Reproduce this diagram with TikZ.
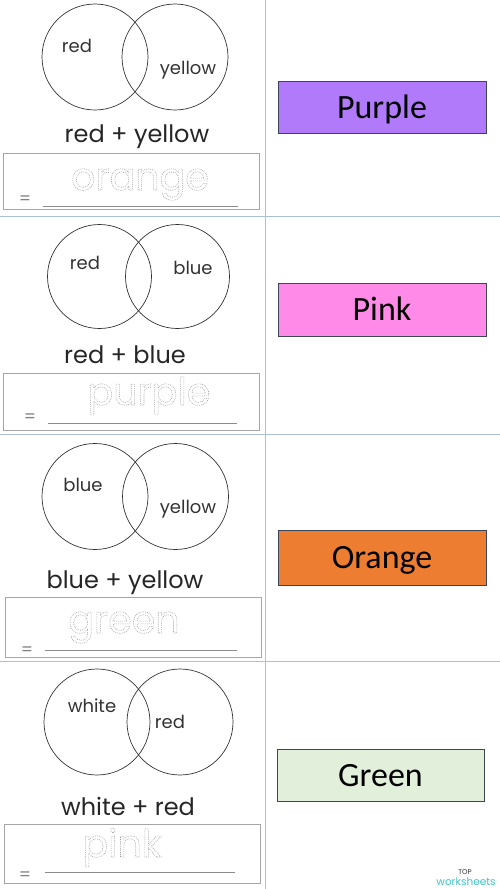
\documentclass[tikz,border=0pt]{standalone}
\usepackage{fontspec}
\setmainfont{Poppins}
\newfontfamily\boxfont{Carlito}
\definecolor{sepc}{RGB}{172,192,212}
\definecolor{bxborder}{RGB}{60,70,90}
\definecolor{cpurple}{RGB}{176,122,250}
\definecolor{cpink}{RGB}{255,138,232}
\definecolor{corange}{RGB}{237,125,49}
\definecolor{cgreen}{RGB}{226,239,218}
\definecolor{logoteal}{RGB}{60,196,200}
\newcommand\tracedword[1]{\special{pdf:literal direct 1 Tr 0.55 w [0.9 1.0] 0 d 0.62 G}#1\special{pdf:literal direct 0 Tr [] 0 d}}
\tikzset{
  venn/.style={draw=black!80, line width=0.7pt, circle, minimum size=106pt, inner sep=0pt},
  vlabel/.style={inner sep=0pt, text=black!80, font=\fontsize{18}{18}\selectfont},
  sumlabel/.style={inner sep=0pt, text=black!85, font=\fontsize{24}{24}\selectfont},
  ansbox/.style={draw=black!35, line width=1.3pt, inner sep=0pt},
  eqsign/.style={inner sep=0pt, text=black!50, font=\fontsize{17}{17}\selectfont},
  uline/.style={draw=black!45, line width=0.6pt},
  traced/.style={inner sep=0pt, anchor=base, text=black!40, font=\fontsize{38}{38}\selectfont},
  colbox/.style={draw=bxborder, line width=0.8pt, inner sep=0pt, text height=25pt, text depth=3pt, font=\boxfont\fontsize{34}{34}\selectfont},
  sepline/.style={draw=sepc, line width=0.8pt}
}
\begin{document}
\begin{tikzpicture}[x=1pt,y=-1pt]
\useasboundingbox (0,0) rectangle (500,889);
% grid
\coordinate (vt) at (265,0); \coordinate (vb) at (265,889);
\draw[sepline] (vt) -- (vb);
\foreach \yy/\nm in {216/s1,434/s2,661/s3}{
  \coordinate (\nm l) at (0,\yy); \coordinate (\nm r) at (500,\yy);
  \draw[sepline] (\nm l) -- (\nm r);
}
% ---------- section 1 ----------
\node[venn] (c1a) at (95,57) {};
\node[venn] (c1b) at (175,57) {};
\node[vlabel] (l1a) at (77,46) {red};
\node[vlabel] (l1b) at (188,70) {yellow};
\node[sumlabel] (s1) at (137,137) {red + yellow};
\node[ansbox, anchor=north west, minimum width=256pt, minimum height=56pt] (b1) at (3,153) {};
\node[traced] (t1) at (140,190) {\tracedword{orange}};
\node[eqsign] (e1) at (25,200) {=};
\coordinate (u1a) at (43,206); \coordinate (u1b) at (238,206);
\draw[uline] (u1a) -- (u1b);
% ---------- section 2 ----------
\node[venn, minimum size=104pt] (c2a) at (99.5,276.5) {};
\node[venn, minimum size=104pt] (c2b) at (177.5,276.5) {};
\node[vlabel] (l2a) at (85,263) {red};
\node[vlabel] (l2b) at (193,268) {blue};
\node[sumlabel] (s2) at (125,355) {red + blue};
\node[ansbox, anchor=north west, minimum width=256pt, minimum height=57pt] (b2) at (3,373) {};
\node[traced] (t2) at (149,405) {\tracedword{purple}};
\node[eqsign] (e2) at (30,418) {=};
\coordinate (u2a) at (48,423); \coordinate (u2b) at (237,423);
\draw[uline] (u2a) -- (u2b);
% ---------- section 3 ----------
\node[venn] (c3a) at (95,496.5) {};
\node[venn] (c3b) at (175.5,496.5) {};
\node[vlabel] (l3a) at (83,485) {blue};
\node[vlabel] (l3b) at (188,509) {yellow};
\node[sumlabel] (s3) at (125,583) {blue + yellow};
\node[ansbox, anchor=north west, minimum width=256pt, minimum height=60pt] (b3) at (5,597) {};
\node[traced] (t3) at (124,633) {\tracedword{green}};
\node[eqsign] (e3) at (27,651) {=};
\coordinate (u3a) at (45,650); \coordinate (u3b) at (237,650);
\draw[uline] (u3a) -- (u3b);
% ---------- section 4 ----------
\node[venn] (c4a) at (97,722) {};
\node[venn] (c4b) at (180,722) {};
\node[vlabel] (l4a) at (92,706) {white};
\node[vlabel] (l4b) at (170,722) {red};
\node[sumlabel] (s4) at (128,806) {white + red};
\node[ansbox, anchor=north west, minimum width=256pt, minimum height=59pt] (b4) at (4,824) {};
\node[traced] (t4) at (122,857) {\tracedword{pink}};
\node[eqsign] (e4) at (25,876) {=};
\coordinate (u4a) at (45,872); \coordinate (u4b) at (235,872);
\draw[uline] (u4a) -- (u4b);
% ---------- colour boxes ----------
\node[colbox, fill=cpurple, minimum width=208pt, minimum height=52pt] (pb) at (382,107) {Purple};
\node[colbox, fill=cpink, minimum width=208pt, minimum height=53pt] (kb) at (382,309.5) {Pink};
\node[colbox, fill=corange, minimum width=208pt, minimum height=55pt] (ob) at (382,557.5) {Orange};
\node[colbox, fill=cgreen, minimum width=207pt, minimum height=52pt] (gb) at (380.5,775) {Green};
% ---------- logo ----------
\node[inner sep=0pt, text=black!80, font=\fontsize{7}{7}\selectfont] (lg1) at (465,872) {TOP};
\node[inner sep=0pt, text=logoteal, font=\fontsize{10.5}{10.5}\selectfont] (lg2) at (466,882) {worksheets};
\end{tikzpicture}
\end{document}
